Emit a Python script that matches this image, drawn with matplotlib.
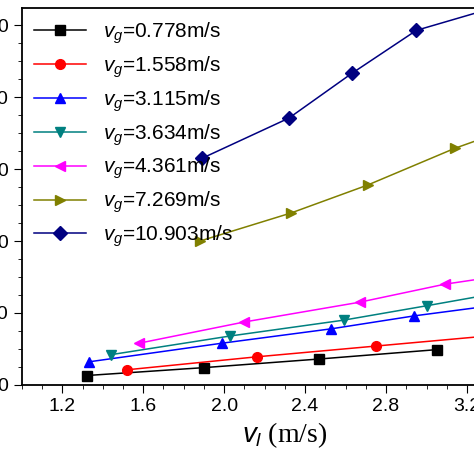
import matplotlib.pyplot as plt
from matplotlib.ticker import MultipleLocator

plt.rcParams['font.family'] = ['Liberation Sans', 'DejaVu Sans']
plt.rcParams['mathtext.fontset'] = 'custom'
plt.rcParams['mathtext.it'] = 'Liberation Sans:italic'

labels = ['0.778', '1.558', '3.115', '3.634', '4.361', '7.269', '10.903']
colors = ['black', 'red', 'blue', '#008080', 'magenta', '#808000', '#000080']
markers = ['s', 'o', '^', 'v', '<', '>', 'D']
xs = [
    [1.32, 1.90, 2.47, 3.05],
    [1.52, 2.16, 2.75, 3.38],
    [1.33, 1.99, 2.53, 2.94, 3.40],
    [1.44, 2.03, 2.59, 3.00, 3.40],
    [1.58, 2.10, 2.67, 3.09, 3.45],
    [1.88, 2.33, 2.71, 3.14, 3.40],
    [1.89, 2.32, 2.63, 2.95, 3.40],
]
ys = [
    [1.3, 2.4, 3.6, 4.9],
    [2.1, 3.9, 5.4, 7.0],
    [3.2, 5.8, 7.8, 9.6, 11.3],
    [4.2, 6.8, 9.0, 11.0, 13.0],
    [5.8, 8.75, 11.5, 14.0, 15.5],
    [20.0, 23.9, 27.8, 32.9, 35.5],
    [31.5, 37.1, 43.3, 49.3, 53.0],
]

fig = plt.figure(figsize=(4.74, 4.74), dpi=100)
ax = fig.add_axes([0.046, 0.188, 1.11, 0.795])
for x, y, c, m, lab in zip(xs, ys, colors, markers, labels):
    ax.plot(x, y, color=c, marker=m, markersize=7, linewidth=1.1,
            label='$v_g$=' + lab + 'm/s')

ax.set_xlim(1.0, 3.6)
ax.set_ylim(0, 52.4)
ax.xaxis.set_major_locator(MultipleLocator(0.4))
ax.xaxis.set_minor_locator(MultipleLocator(0.1))
ax.yaxis.set_major_locator(MultipleLocator(10))
ax.yaxis.set_minor_locator(MultipleLocator(2.5))
ax.tick_params(which='both', direction='out', labelsize=14)
ax.tick_params(which='major', length=6)
ax.tick_params(which='minor', length=3)
ax.set_xlabel('$v_l$ (m/s)', fontsize=20, family='Liberation Serif')
for s in ax.spines.values():
    s.set_linewidth(1.3)

ax.legend(loc='upper left', frameon=False, fontsize=15, handlelength=2.5,
          borderaxespad=0.2, labelspacing=0.4)

fig.savefig('out.png', dpi=100)
